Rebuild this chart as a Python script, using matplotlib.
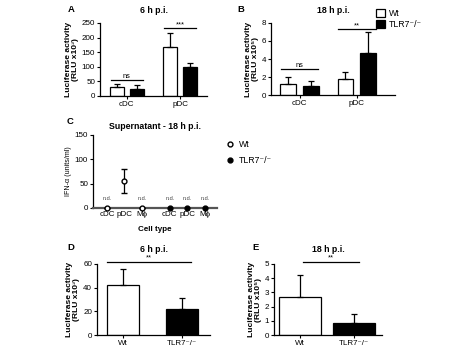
import matplotlib
matplotlib.use("Agg")
import matplotlib.pyplot as plt
from matplotlib.patches import Patch
from matplotlib.lines import Line2D
import numpy as np

plt.rcParams['font.family'] = ['Liberation Sans', 'DejaVu Sans']

# ---- data ----
groups_ab = ["cDC", "pDC"]
a_wt = [31, 169]
a_wt_err = [9, 48]
a_ko = [24, 99]
a_ko_err = [14, 15]

b_wt = [1.23, 1.8]
b_wt_err = [0.82, 0.8]
b_ko = [1.0, 4.65]
b_ko_err = [0.5, 2.3]

c_labels = ["cDC", "pDC", "M\u03d5", "cDC", "pDC", "M\u03d5"]
c_wt = [0, 56, 0]
c_wt_err = [0, 25, 0]
c_ko = [0, 0, 0]
c_nd = ["n.d.", "", "n.d.", "n.d.", "n.d.", "n.d."]

KO = "TLR7\u207b/\u207b"
de_labels = ["Wt", KO]
d_vals = [42.5, 22]
d_err = [13.5, 9]
e_vals = [2.7, 0.88]
e_err = [1.52, 0.6]

FS = 5.8
W, H = 474, 355
fig = plt.figure(figsize=(W / 100, H / 100), dpi=100)


def axpx(x0, y0, x1, y1):
    return fig.add_axes([x0 / W, 1 - y1 / H, (x1 - x0) / W, (y1 - y0) / H])


def style(ax):
    for s in ["top", "right"]:
        ax.spines[s].set_visible(False)
    for s in ["left", "bottom"]:
        ax.spines[s].set_linewidth(0.9)
    ax.tick_params(labelsize=FS, width=0.8, length=2.5, pad=1)


def sig(ax, x0, x1, y, txt):
    ax.plot([x0, x1], [y, y], color="black", lw=0.9, clip_on=False)
    ax.text((x0 + x1) / 2, y, txt, ha="center", va="bottom", fontsize=FS - 0.5)


def bars(ax, pos, vals, errs, color, width):
    ax.bar(pos, vals, width, color=color, edgecolor="black", linewidth=0.9, zorder=2)
    ax.errorbar(pos, vals, yerr=[np.zeros(len(errs)), errs], fmt="none",
                ecolor="black", elinewidth=0.9, capsize=2.5, capthick=0.9, zorder=3)


def ylab(ax, exp):
    ax.set_ylabel("Luciferase activity\n(RLU x10" + exp + ")", fontsize=FS + 0.3,
                  fontweight="bold", labelpad=2, linespacing=1.0)


# ---- Panel A ----
axA = axpx(100, 23, 207, 96)
style(axA)
x = np.arange(len(groups_ab))
bars(axA, x - 0.19, a_wt, a_wt_err, "white", 0.26)
bars(axA, x + 0.19, a_ko, a_ko_err, "black", 0.26)
axA.set_xlim(-0.5, 1.5)
axA.set_ylim(0, 250)
axA.set_yticks([0, 50, 100, 150, 200, 250])
axA.set_xticks(x)
axA.set_xticklabels(groups_ab)
sig(axA, -0.3, 0.3, 55, "ns")
sig(axA, 0.7, 1.3, 233, "***")
ylab(axA, "\u00b3")
axA.set_title("6 h p.i.", fontsize=FS + 0.5, fontweight="bold", pad=7)
fig.text(68 / W, 1 - 9 / H, "A", fontsize=FS + 1, fontweight="bold", va="center")

# ---- Panel B ----
axB = axpx(271, 23, 395, 95)
style(axB)
bars(axB, x - 0.2, b_wt, b_wt_err, "white", 0.27)
bars(axB, x + 0.2, b_ko, b_ko_err, "black", 0.27)
axB.set_xlim(-0.5, 1.67)
axB.set_ylim(0, 8)
axB.set_yticks([0, 2, 4, 6, 8])
axB.set_xticks(x)
axB.set_xticklabels(groups_ab)
sig(axB, -0.33, 0.33, 2.9, "ns")
sig(axB, 0.67, 1.33, 7.3, "**")
ylab(axB, "\u2075")
axB.set_title("18 h p.i.", fontsize=FS + 0.5, fontweight="bold", pad=7)
fig.text(237 / W, 1 - 9 / H, "B", fontsize=FS + 1, fontweight="bold", va="center")
handles = [Patch(facecolor="white", edgecolor="black", linewidth=0.9),
           Patch(facecolor="black", edgecolor="black", linewidth=0.9)]
fig.legend(handles, ["Wt", KO], loc="upper left",
           bbox_to_anchor=(370 / W, 1 - 3 / H), frameon=False, fontsize=FS + 0.5,
           handlelength=1.0, handleheight=1.0, handletextpad=0.5, labelspacing=0.2,
           borderpad=0.2)

# ---- Panel C ----
axC = axpx(93, 135, 217, 208)
style(axC)
axC.spines["bottom"].set_linewidth(1.6)
axC.spines["bottom"].set_color("#555555")
cx = np.array([0, 1, 2, 3.6, 4.6, 5.6])
axC.errorbar(cx[:3], c_wt, yerr=c_wt_err, fmt="o", mfc="white", mec="black",
             ms=3.5, mew=1.0, ecolor="black", elinewidth=0.9, capsize=2.5,
             capthick=0.9, clip_on=False, zorder=4)
axC.plot(cx[3:], c_ko, "o", color="black", ms=3.5, clip_on=False, zorder=4)
for xi, t in zip(cx, c_nd):
    if t:
        axC.text(xi, 14, t, ha="center", va="bottom", fontsize=FS - 1.8, color="#444444")
axC.set_xlim(-0.8, 6.3)
axC.set_ylim(0, 150)
axC.set_yticks([0, 50, 100, 150])
axC.set_xticks(cx)
axC.set_xticklabels(c_labels)
axC.tick_params(axis="x", length=0, pad=2)
axC.set_ylabel("IFN-\u03b1 (units/ml)", fontsize=FS - 0.7, labelpad=2)
axC.set_xlabel("Cell type", fontsize=FS, fontweight="bold", labelpad=6)
axC.set_title("Supernatant - 18 h p.i.", fontsize=FS + 0.5, fontweight="bold", pad=4)
fig.text(67 / W, 1 - 122 / H, "C", fontsize=FS + 1, fontweight="bold", va="center")
leg_h = [Line2D([], [], marker="o", ls="none", mfc="white", mec="black", ms=3.5, mew=1.0),
         Line2D([], [], marker="o", ls="none", color="black", ms=3.5)]
fig.legend(leg_h, ["Wt", KO], loc="upper left",
           bbox_to_anchor=(219 / W, 1 - 134 / H), frameon=False, fontsize=FS + 0.5,
           handlelength=1.0, handletextpad=0.6, labelspacing=0.8, borderpad=0.2)

# ---- Panel D ----
axD = axpx(97, 264, 210, 335)
style(axD)
xd = np.arange(2)
bars(axD, xd, d_vals, d_err, ["white", "black"], 0.55)
axD.set_xlim(-0.44, 1.48)
axD.set_ylim(0, 60)
axD.set_yticks([0, 20, 40, 60])
axD.set_xticks(xd)
axD.set_xticklabels(de_labels)
sig(axD, -0.27, 1.15, 62, "**")
ylab(axD, "\u00b3")
axD.set_title("6 h p.i.", fontsize=FS + 0.5, fontweight="bold", pad=9)
fig.text(67 / W, 1 - 247 / H, "D", fontsize=FS + 1, fontweight="bold", va="center")

# ---- Panel E ----
axE = axpx(274, 264, 382, 335)
style(axE)
bars(axE, xd, e_vals, e_err, ["white", "black"], 0.78)
axE.set_xlim(-0.48, 1.52)
axE.set_ylim(0, 5)
axE.set_yticks([0, 1, 2, 3, 4, 5])
axE.set_xticks(xd)
axE.set_xticklabels(de_labels)
sig(axE, 0.05, 1.1, 5.17, "**")
ylab(axE, "\u2075")
axE.set_title("18 h p.i.", fontsize=FS + 0.5, fontweight="bold", pad=9)
fig.text(252 / W, 1 - 247 / H, "E", fontsize=FS + 1, fontweight="bold", va="center")

fig.savefig("out.png", dpi=100)
